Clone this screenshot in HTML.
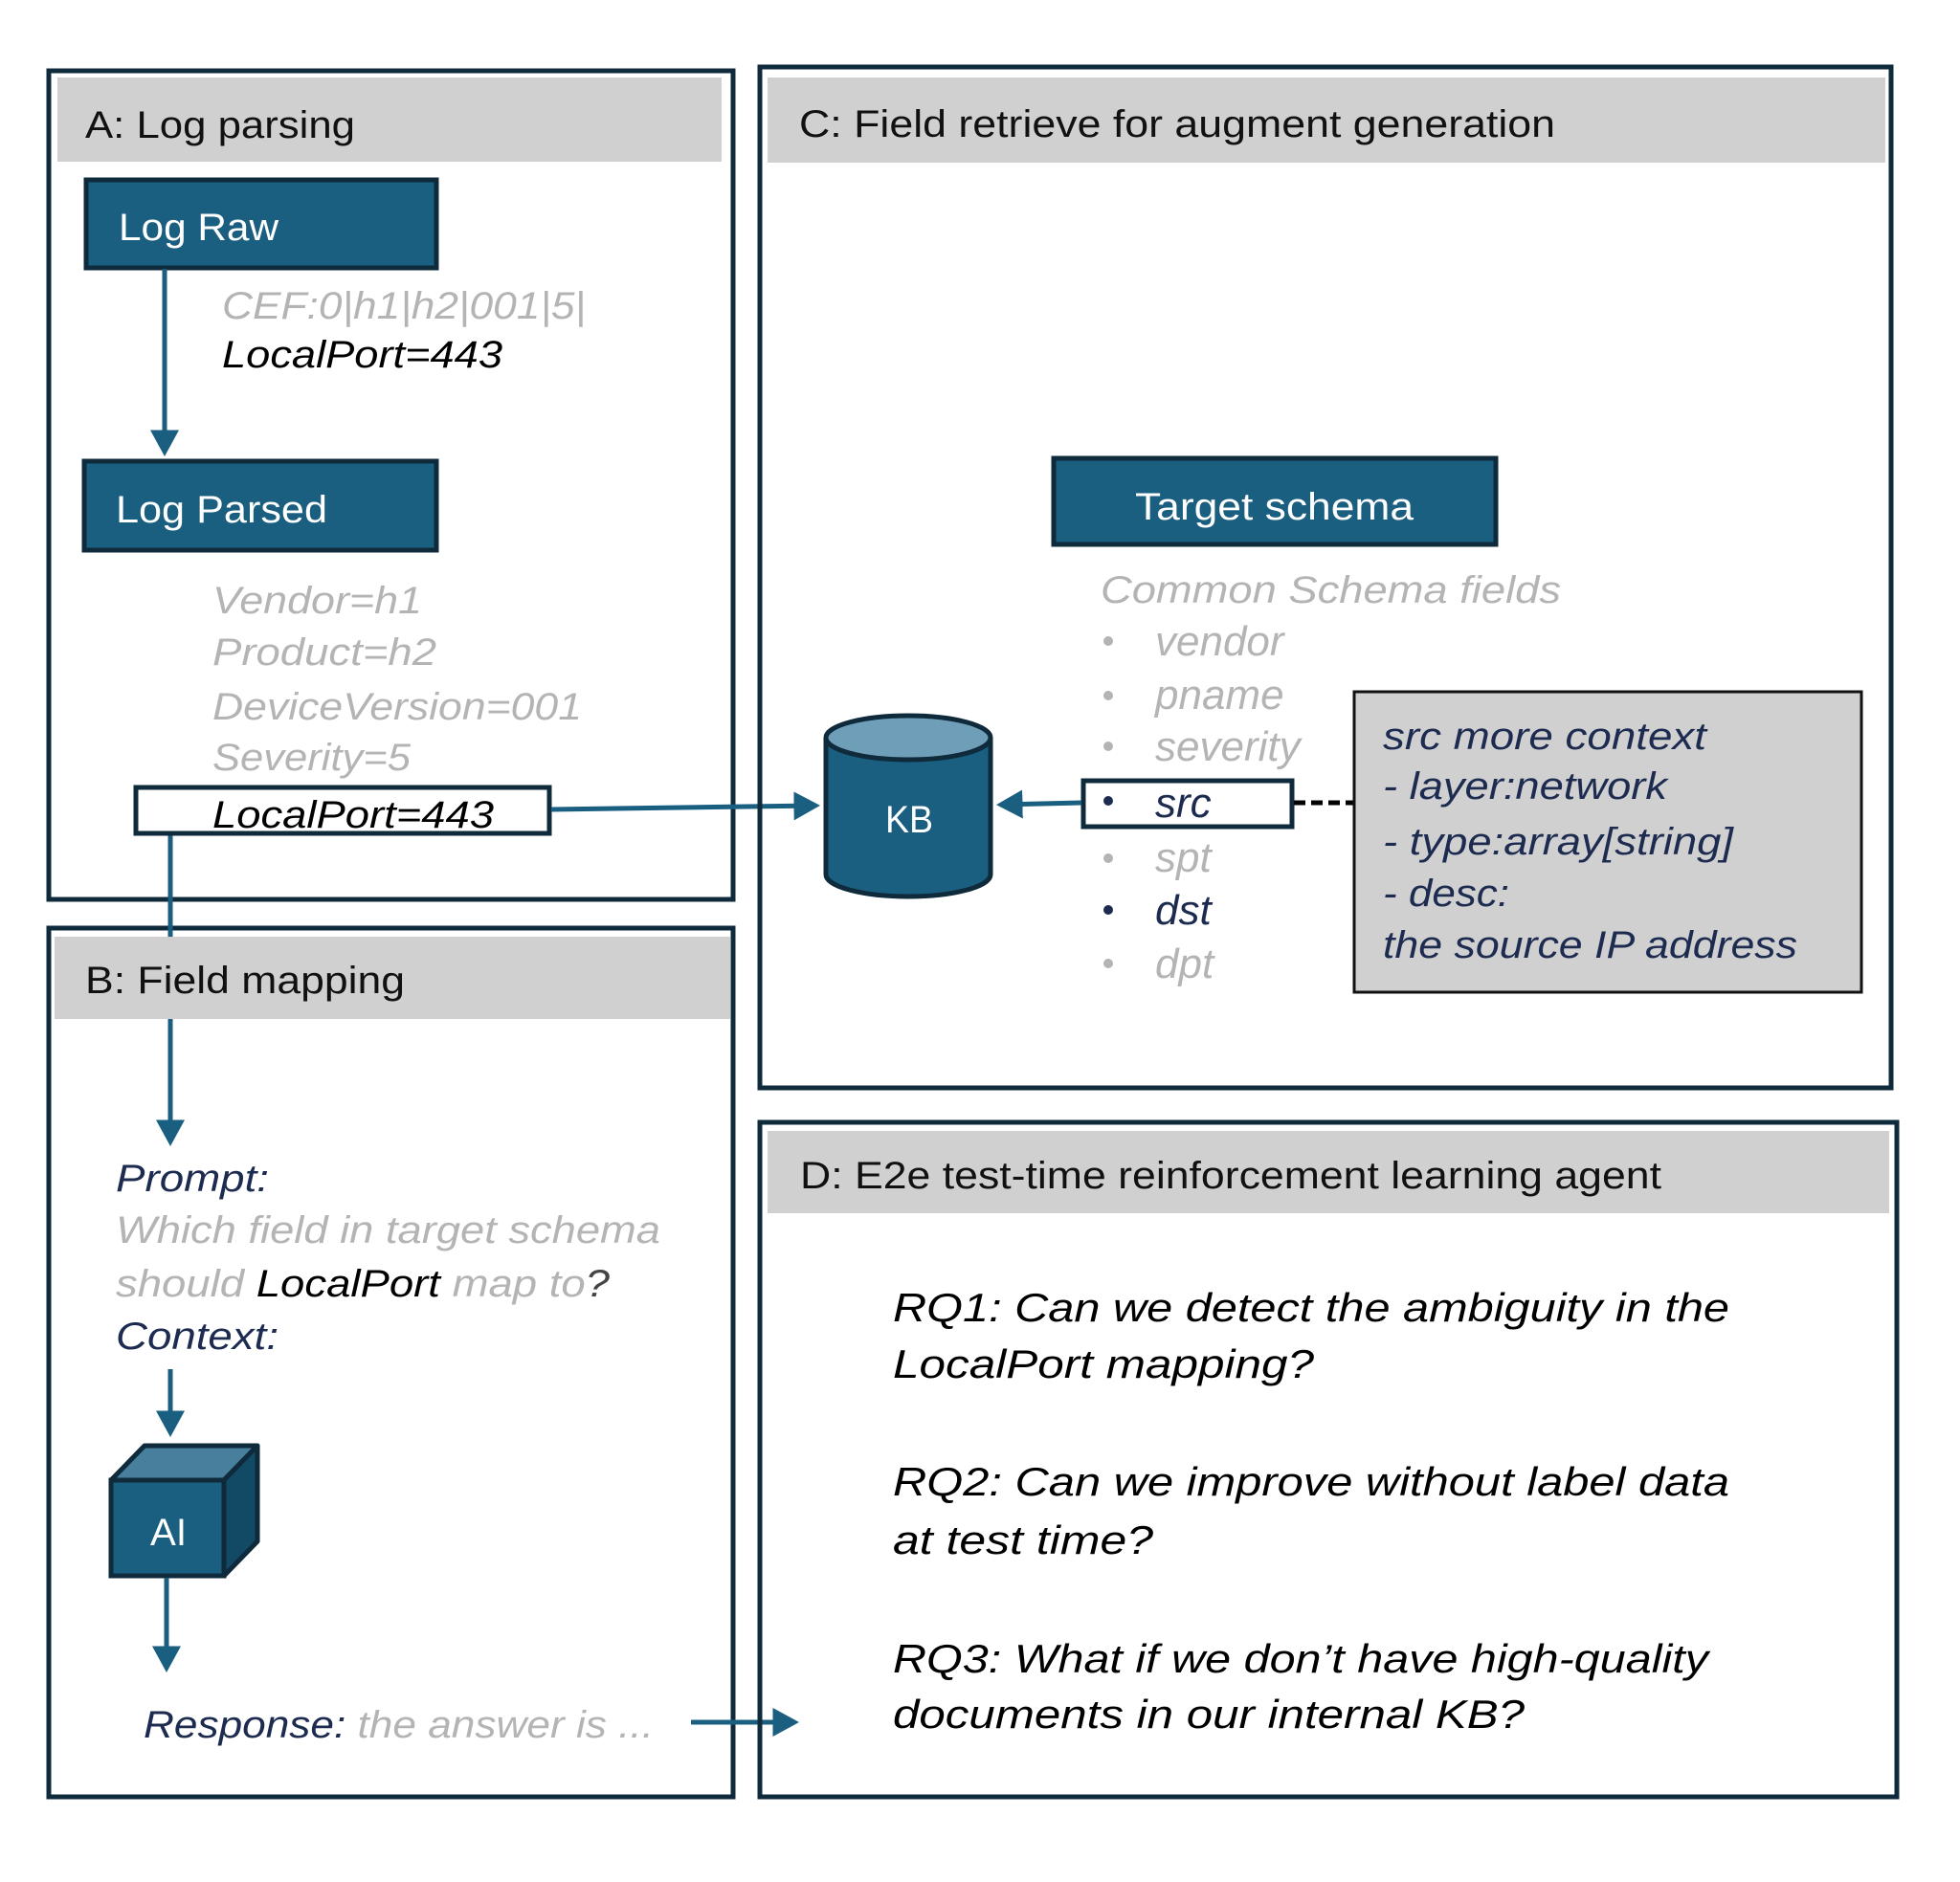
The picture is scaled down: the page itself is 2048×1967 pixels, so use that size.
<!DOCTYPE html>
<html><head><meta charset="utf-8"><style>html,body{margin:0;padding:0;background:#fff}svg{display:block}</style></head>
<body>
<svg width="2048" height="1967" viewBox="0 0 2048 1967" xmlns="http://www.w3.org/2000/svg" font-family="Liberation Sans, sans-serif">
<defs>
<marker id="ah" markerWidth="6" markerHeight="6" refX="4.5" refY="3" orient="auto" markerUnits="strokeWidth">
<path d="M0,0 L5.5,3 L0,6 Z" fill="#1a5e80"/></marker>
</defs>
<rect width="2048" height="1967" fill="#fff"/>

<!-- Box A -->
<rect x="51" y="74" width="715" height="866" fill="none" stroke="#0e2a3b" stroke-width="5"/>
<rect x="60" y="81" width="694" height="88" fill="#d0d0d0"/>
<text x="89" y="144" font-size="40" fill="#111" textLength="282" lengthAdjust="spacingAndGlyphs">A: Log parsing</text>

<rect x="90" y="188" width="366" height="92" fill="#1a5e80" stroke="#0e2a3b" stroke-width="5"/>
<text x="124" y="251" font-size="40" fill="#fff" textLength="167" lengthAdjust="spacingAndGlyphs">Log Raw</text>
<line x1="172" y1="281" x2="172" y2="472" stroke="#1a5e80" stroke-width="5" marker-end="url(#ah)"/>
<text x="232" y="333" font-size="40" font-style="italic" fill="#b4b4b4" textLength="380" lengthAdjust="spacingAndGlyphs">CEF:0|h1|h2|001|5|</text>
<text x="232" y="384" font-size="40" font-style="italic" fill="#000" textLength="293" lengthAdjust="spacingAndGlyphs">LocalPort=443</text>

<rect x="88" y="482" width="368" height="93" fill="#1a5e80" stroke="#0e2a3b" stroke-width="5"/>
<text x="121" y="546" font-size="40" fill="#fff" textLength="221" lengthAdjust="spacingAndGlyphs">Log Parsed</text>

<text x="222" y="641" font-size="40" font-style="italic" fill="#b4b4b4" textLength="219" lengthAdjust="spacingAndGlyphs">Vendor=h1</text>
<text x="222" y="695" font-size="40" font-style="italic" fill="#b4b4b4" textLength="234" lengthAdjust="spacingAndGlyphs">Product=h2</text>
<text x="222" y="752" font-size="40" font-style="italic" fill="#b4b4b4" textLength="386" lengthAdjust="spacingAndGlyphs">DeviceVersion=001</text>
<text x="222" y="805" font-size="40" font-style="italic" fill="#b4b4b4" textLength="207" lengthAdjust="spacingAndGlyphs">Severity=5</text>

<line x1="178" y1="872" x2="178" y2="1193" stroke="#1a5e80" stroke-width="5" marker-end="url(#ah)"/>
<rect x="142" y="823" width="432" height="48" fill="#fff" stroke="#0e2a3b" stroke-width="5"/>
<text x="222" y="865" font-size="40" font-style="italic" fill="#000" textLength="294" lengthAdjust="spacingAndGlyphs">LocalPort=443</text>
<line x1="576" y1="846" x2="852" y2="842" stroke="#1a5e80" stroke-width="5" marker-end="url(#ah)"/>

<!-- Box C -->
<rect x="794" y="70" width="1182" height="1067" fill="none" stroke="#0e2a3b" stroke-width="5"/>
<rect x="802" y="81" width="1168" height="89" fill="#d0d0d0"/>
<text x="835" y="143" font-size="40" fill="#111" textLength="790" lengthAdjust="spacingAndGlyphs">C: Field retrieve for augment generation</text>

<rect x="1101" y="479" width="462" height="90" fill="#1a5e80" stroke="#0e2a3b" stroke-width="5"/>
<text x="1186" y="543" font-size="40" fill="#fff" textLength="291" lengthAdjust="spacingAndGlyphs">Target schema</text>
<text x="1150" y="630" font-size="40" font-style="italic" fill="#b4b4b4" textLength="481" lengthAdjust="spacingAndGlyphs">Common Schema fields</text>

<g font-size="44" font-style="italic">
<circle cx="1158" cy="670" r="5" fill="#b4b4b4"/><text x="1207" y="685" fill="#b4b4b4">vendor</text>
<circle cx="1158" cy="727" r="5" fill="#b4b4b4"/><text x="1207" y="741" fill="#b4b4b4">pname</text>
<circle cx="1158" cy="780" r="5" fill="#b4b4b4"/><text x="1207" y="795" fill="#b4b4b4">severity</text>
<rect x="1132" y="816" width="218" height="48" fill="#fff" stroke="#0e2a3b" stroke-width="5"/>
<circle cx="1158" cy="837" r="5" fill="#1c2b4f"/><text x="1207" y="854" fill="#1c2b4f">src</text>
<circle cx="1158" cy="897" r="5" fill="#b4b4b4"/><text x="1207" y="911" fill="#b4b4b4">spt</text>
<circle cx="1158" cy="951" r="5" fill="#1c2b4f"/><text x="1207" y="966" fill="#1c2b4f">dst</text>
<circle cx="1158" cy="1007" r="5" fill="#b4b4b4"/><text x="1207" y="1022" fill="#b4b4b4">dpt</text>
</g>
<line x1="1130" y1="839" x2="1046" y2="841" stroke="#1a5e80" stroke-width="5" marker-end="url(#ah)"/>
<line x1="1352" y1="839" x2="1414" y2="839" stroke="#000" stroke-width="5" stroke-dasharray="12,6"/>

<rect x="1415" y="723" width="530" height="314" fill="#d0d0d0" stroke="#111" stroke-width="3"/>
<g font-size="40" font-style="italic" fill="#1c2b4f">
<text x="1445" y="783" textLength="338" lengthAdjust="spacingAndGlyphs">src more context</text>
<text x="1445" y="835" textLength="297" lengthAdjust="spacingAndGlyphs">- layer:network</text>
<text x="1445" y="893" textLength="366" lengthAdjust="spacingAndGlyphs">- type:array[string]</text>
<text x="1445" y="947" textLength="132" lengthAdjust="spacingAndGlyphs">- desc:</text>
<text x="1445" y="1001" textLength="433" lengthAdjust="spacingAndGlyphs">the source IP address</text>
</g>

<!-- KB cylinder -->
<path d="M863,771 L863,914 A86,23 0 0 0 1035,914 L1035,771" fill="#1a5e80" stroke="#0e2a3b" stroke-width="5"/>
<ellipse cx="949" cy="771" rx="86" ry="23" fill="#6f9fb8" stroke="#0e2a3b" stroke-width="5"/>
<text x="925" y="870" font-size="40" fill="#fff" textLength="50" lengthAdjust="spacingAndGlyphs">KB</text>

<!-- Box B -->
<rect x="51" y="970" width="715" height="908" fill="none" stroke="#0e2a3b" stroke-width="5"/>
<line x1="178" y1="940" x2="178" y2="979" stroke="#1a5e80" stroke-width="5"/>
<rect x="57" y="979" width="706" height="86" fill="#d0d0d0"/>
<text x="89" y="1038" font-size="40" fill="#111" textLength="334" lengthAdjust="spacingAndGlyphs">B: Field mapping</text>

<g font-size="40" font-style="italic">
<text x="121" y="1245" fill="#1c2b4f" textLength="160" lengthAdjust="spacingAndGlyphs">Prompt:</text>
<text x="121" y="1299" fill="#b4b4b4" textLength="569" lengthAdjust="spacingAndGlyphs">Which field in target schema</text>
<text x="121" y="1355" fill="#b4b4b4" textLength="516" lengthAdjust="spacingAndGlyphs">should <tspan fill="#000">LocalPort</tspan> map to<tspan fill="#444">?</tspan></text>
<text x="121" y="1410" fill="#1c2b4f" textLength="170" lengthAdjust="spacingAndGlyphs">Context:</text>
</g>
<line x1="178" y1="1431" x2="178" y2="1497" stroke="#1a5e80" stroke-width="5" marker-end="url(#ah)"/>

<!-- AI cube -->
<polygon points="116,1547 151,1511 269,1511 234,1547" fill="#477f9c" stroke="#0e2a3b" stroke-width="5" stroke-linejoin="round"/>
<polygon points="234,1547 269,1511 269,1611 234,1647" fill="#124a66" stroke="#0e2a3b" stroke-width="5" stroke-linejoin="round"/>
<rect x="116" y="1547" width="118" height="100" fill="#1a5e80" stroke="#0e2a3b" stroke-width="5"/>
<text x="157" y="1615" font-size="40" fill="#fff" textLength="38" lengthAdjust="spacingAndGlyphs">AI</text>
<line x1="174" y1="1649" x2="174" y2="1743" stroke="#1a5e80" stroke-width="5" marker-end="url(#ah)"/>

<text x="150" y="1816" font-size="40" font-style="italic" fill="#b4b4b4" textLength="533" lengthAdjust="spacingAndGlyphs"><tspan fill="#1c2b4f">Response:</tspan> the answer is ...</text>
<line x1="722" y1="1800" x2="830" y2="1800" stroke="#1a5e80" stroke-width="5" marker-end="url(#ah)"/>

<!-- Box D -->
<rect x="794" y="1173" width="1188" height="705" fill="none" stroke="#0e2a3b" stroke-width="5"/>
<rect x="802" y="1182" width="1172" height="86" fill="#d0d0d0"/>
<text x="836" y="1242" font-size="40" fill="#111" textLength="900" lengthAdjust="spacingAndGlyphs">D: E2e test-time reinforcement learning agent</text>

<g font-size="42" font-style="italic" fill="#000">
<text x="933" y="1381" textLength="874" lengthAdjust="spacingAndGlyphs">RQ1: Can we detect the ambiguity in the</text>
<text x="933" y="1440" textLength="440" lengthAdjust="spacingAndGlyphs">LocalPort mapping?</text>
<text x="933" y="1563" textLength="874" lengthAdjust="spacingAndGlyphs">RQ2: Can we improve without label data</text>
<text x="933" y="1624" textLength="272" lengthAdjust="spacingAndGlyphs">at test time?</text>
<text x="933" y="1748" textLength="852" lengthAdjust="spacingAndGlyphs">RQ3: What if we don’t have high-quality</text>
<text x="933" y="1806" textLength="660" lengthAdjust="spacingAndGlyphs">documents in our internal KB?</text>
</g>
</svg>
</body></html>
